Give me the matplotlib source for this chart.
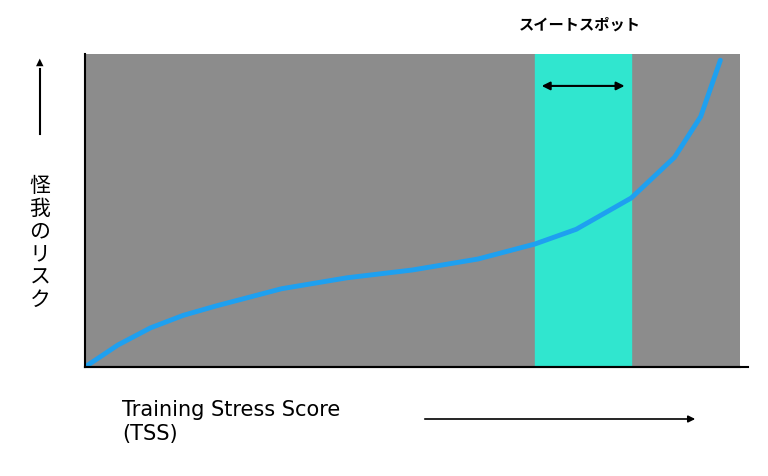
import matplotlib.pyplot as plt
from matplotlib.lines import Line2D

plt.rcParams['font.family'] = ['Noto Sans CJK JP', 'DejaVu Sans']

# curve (x: 0-100, y: 0-100)
tss = [0, 5, 10, 15, 20, 30, 40, 50, 60, 68.7, 75, 83.4, 90, 94, 97]
risk = [0, 7, 12.5, 16.5, 19.5, 25, 28.5, 31, 34.5, 39.3, 44, 54, 67, 80, 98]
sweet_spot = (68.7, 83.4)

fig = plt.figure(figsize=(7.68, 4.77), dpi=100)
ax = fig.add_axes([85/768, 1-368/477, 655/768, 313/477])
ax.set_facecolor("#8c8c8c")
ax.axvspan(sweet_spot[0], sweet_spot[1], color="#30e6cf")
ax.plot(tss, risk, color="#1ea0f0", lw=3.5, solid_capstyle="round")
ax.annotate("", xy=(sweet_spot[0]+0.6, 89.8), xytext=(sweet_spot[1]-0.6, 89.8),
            arrowprops=dict(arrowstyle="<|-|>", color="black", lw=1.5, mutation_scale=12))
ax.set_xlim(0, 100)
ax.set_ylim(0, 100)
ax.set_xticks([])
ax.set_yticks([])
for s in ["top", "right"]:
    ax.spines[s].set_visible(False)
ax.spines["left"].set_linewidth(1.5)
ax.spines["bottom"].set_linewidth(1.5)

# bottom axis line extends a bit past the plot
fig.add_artist(Line2D([85/768, 748/768], [1-368/477]*2, color="black", lw=1.5))

fig.text(580/768, 1-25/477, "スイートスポット", ha="center", va="center",
         fontsize=11, fontweight="bold")

# y label with up arrow
fig.add_artist(Line2D([40/768, 40/768], [1-135/477, 1-70/477], color="black", lw=1.5))
fig.text(40/768, 1-62/477, "▲", ha="center", va="center", fontsize=7,
         family=['DejaVu Sans'])
fig.text(40/768, 1-243/477, "\n".join("怪我のリスク"), ha="center", va="center",
         fontsize=15, linespacing=1.05)

# x label with right arrow
fig.text(122/768, 1-422/477, "Training Stress Score\n(TSS)", ha="left", va="center",
         fontsize=15, family=['DejaVu Sans'])
fig.add_artist(plt.Annotation("", xy=(698/768, 1-420/477), xytext=(422/768, 1-420/477),
                              xycoords="figure fraction",
                              arrowprops=dict(arrowstyle="-|>", color="black", lw=1.2)))

fig.savefig("out.png", dpi=100)
